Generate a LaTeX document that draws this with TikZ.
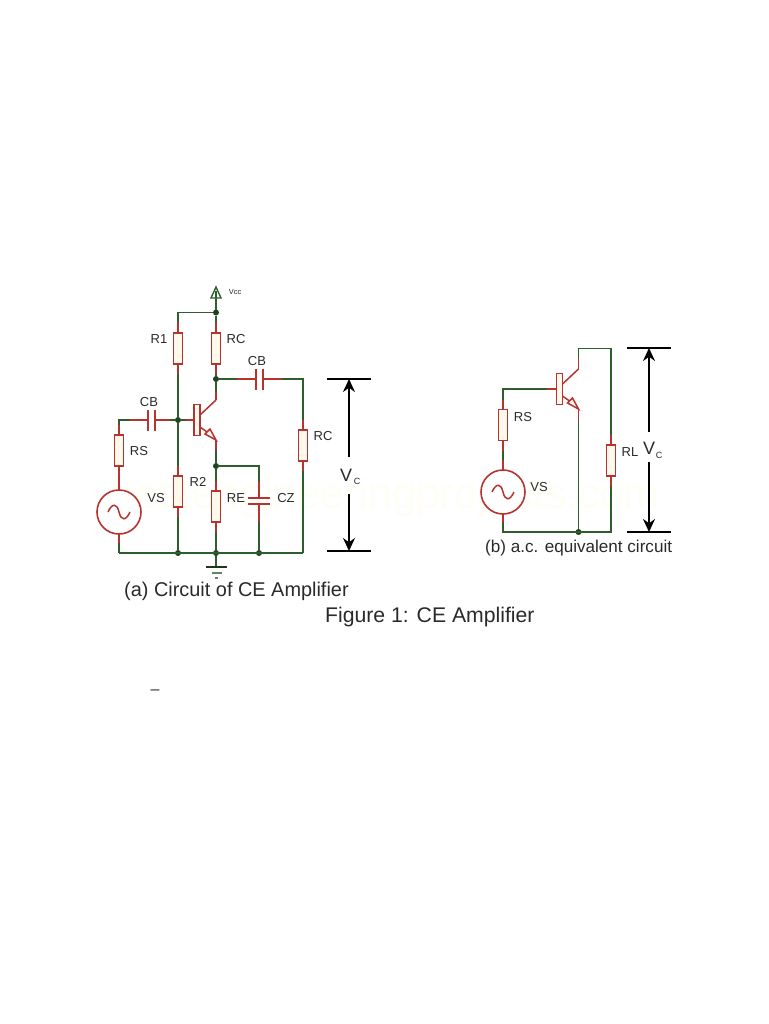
\documentclass[tikz,border=0pt]{standalone}
\usepackage{fontspec}
\setmainfont{Liberation Sans}
\usetikzlibrary{arrows.meta}
\definecolor{wg}{HTML}{2E5E2E}
\definecolor{wr}{HTML}{B5342F}
\definecolor{rfill}{HTML}{FFF9EC}
\definecolor{txt}{HTML}{2A2A2A}
\definecolor{wm}{HTML}{FEFEF4}
\tikzset{
 wire/.style={draw=wg,line width=1.5pt},
 lead/.style={draw=wr,line width=1.5pt},
 res/.style={draw=wr,fill=rfill,line width=1.5pt,minimum width=9pt,minimum height=31pt,inner sep=0pt,outer sep=0pt},
 bbar/.style={draw=wr,fill=rfill,line width=1.5pt,minimum width=6pt,minimum height=31pt,inner sep=0pt,outer sep=0pt},
 src/.style={circle,draw=wr,fill=white,line width=1.6pt,minimum size=44pt,inner sep=0pt,outer sep=0pt},
 dot/.style={circle,fill=wg!70!black,minimum size=6pt,inner sep=0pt,outer sep=0pt},
 lab/.style={font=\fontsize{13}{14}\selectfont,text=txt,inner sep=0pt},
 dimline/.style={draw=black,line width=1.6pt},
 dimarrow/.style={draw=black,line width=1.6pt,-{Stealth[length=13pt,width=12pt]}},
}
\newcommand{\mysine}[1]{\draw[wr,line width=1.5pt] ([xshift=-11pt]#1.center) .. controls +(4,-9) and +(-2,-9) .. (#1.center) .. controls +(2,9) and +(-4,9) .. ([xshift=11pt]#1.center);}
\newcommand{\mytrans}[3]{% name, base-bar x, y
 \node[bbar] (#1) at (#2,#3) {};
 \begin{scope}[shift={(#2,#3)}]
  \coordinate (#1c) at (19,-20);
  \coordinate (#1e) at (19,20);
  \draw[lead] (3,-5) -- (#1c);
  \draw[lead] (3,7) -- (10,12);
  \draw[lead,fill=rfill,line join=miter] (#1e) -- (8,14) -- (13,9) -- cycle;
 \end{scope}}
\begin{document}
\begin{tikzpicture}[x=1pt,y=-1pt]
\useasboundingbox (0,0) rectangle (768,1024);
\fill[white] (0,0) rectangle (768,1024);
\node[font=\fontsize{43}{44}\selectfont,text=wm,inner sep=0pt] (wmark) at (385,497) {bestengineeringprojects.com};

% ---------- circuit (a)
\coordinate (vtop) at (216,298);
\node[dot] (jv) at (216,312.5) {};
\coordinate (c1) at (178,312.5);
\node[res] (r1) at (178,348.5) {};
\node[res] (rc) at (216,348.5) {};
\node[dot] (jc) at (216,379) {};
\node[dot] (jb) at (178,420) {};
\node[res] (r2) at (178,491.5) {};
\node[res] (re) at (216,506.5) {};
\node[res] (rl) at (303,445.5) {};
\node[res] (rs) at (119,450.5) {};
\node[src] (vs) at (119,512) {};
\node[dot] (je) at (216,466) {};
\node[dot] (g1) at (178,553) {};
\node[dot] (g2) at (216,553) {};
\node[dot] (g3) at (259,553) {};
\coordinate (c2) at (119,553);
\coordinate (c3) at (303,553);
\coordinate (c4) at (303,379);
\coordinate (c5) at (119,420);
\coordinate (c6) at (259,466);
\coordinate (cz1) at (259,498);
\coordinate (cz2) at (259,504);
\coordinate (cb1a) at (256,379);
\coordinate (cb1b) at (263,379);
\coordinate (cb2a) at (148,420);
\coordinate (cb2b) at (155,420);
\coordinate (gnd) at (216,567);
\mytrans{q}{197}{420}

% wires
\draw[wire] (vtop) -- (jv);
\draw[wire] (jv) -- (c1) -- (r1.north);
\draw[wire] (jv) -- (rc.north);
\draw[wire] (rc.south) -- (jc);
\draw[wire] (r1.south) -- (jb);
\draw[wire] (jb) -- (r2.north);
\draw[wire] (r2.south) -- (g1);
\draw[wire] (jc) -- (qc);
\draw[wire] (qe) -- (je);
\draw[wire] (je) -- (re.north);
\draw[wire] (re.south) -- (g2);
\draw[wire] (je) -- (c6) -- (cz1);
\draw[wire] (cz2) -- (g3);
\draw[wire] (jc) -- (cb1a);
\draw[wire] (cb1b) -- (c4) -- (rl.north);
\draw[wire] (rl.south) -- (c3);
\draw[wire] (c2) -- (c3);
\draw[wire] (g2) -- (gnd);
\draw[wire] (jb) -- (cb2b);
\draw[wire] (jb) -- (q.west);
\draw[wire] (cb2a) -- (c5) -- (rs.north);
\draw[wire] (rs.south) -- (vs.north);
\draw[wire] (vs.south) -- (c2);
% red leads
\draw[lead] (r1.north) -- ++(0,-11);
\draw[lead] (r1.south) -- ++(0,10);
\draw[lead] (rc.north) -- ++(0,-11);
\draw[lead] (rc.south) -- ++(0,10);
\draw[lead] (r2.north) -- ++(0,-10);
\draw[lead] (r2.south) -- ++(0,10);
\draw[lead] (re.north) -- ++(0,-10);
\draw[lead] (re.south) -- ++(0,10);
\draw[lead] (rl.north) -- ++(0,-10);
\draw[lead] (rl.south) -- ++(0,10);
\draw[lead] (rs.north) -- ++(0,-10);
\draw[lead] (rs.south) -- (vs.north);
\draw[lead] (vs.south) -- ++(0,9);
\draw[lead] (cz1) -- ++(0,-16);
\draw[lead] (cz2) -- ++(0,18);
\draw[lead] (cb1a) -- ++(-19,0);
\draw[lead] (cb1b) -- ++(19,0);
\draw[lead] (cb2a) -- ++(-18,0);
\draw[lead] (cb2b) -- ++(15,0);
\draw[lead] (jb) ++(8,0) -- (q.west);
\draw[lead] (jc) ++(0,13) -- ++(0,8);
\draw[lead] (qe) -- ++(0,10);
% capacitor plates
\draw[wr,line width=2pt] (cb1a) ++(0,-10.5) -- ++(0,21);
\draw[wr,line width=2pt] (cb1b) ++(0,-10.5) -- ++(0,21);
\draw[wr,line width=2pt] (cb2a) ++(0,-10.5) -- ++(0,21);
\draw[wr,line width=2pt] (cb2b) ++(0,-10.5) -- ++(0,21);
\draw[wr,line width=1.8pt] (cz1) ++(-11,0) -- ++(22,0);
\draw[wr,line width=1.8pt] (cz2) ++(-11,0) -- ++(22,0);
% supply symbol
\draw[wg,fill=white,line width=1.4pt,line join=miter] (vtop) ++(-5,0) -- (216,287) -- (221,298) -- cycle;
\draw[wire] (vtop) -- (216,291);
% ground
\draw[wg!60!black,line width=1.4pt] (206,567) -- (227,567);
\draw[wg!75!white,line width=1.4pt] (212,573) -- (222,573);
\draw[wg!75!white,line width=1.4pt] (215,578) -- (218,578);
\mysine{vs}

% V markers (a)
\coordinate (va1) at (327,379); \coordinate (va2) at (371,379);
\coordinate (vb1) at (327,551); \coordinate (vb2) at (371,551);
\coordinate (vat) at (349,379); \coordinate (vab) at (349,551);
\coordinate (vam1) at (349,457); \coordinate (vam2) at (349,494);
\draw[dimline] (va1) -- (va2);
\draw[dimline] (vb1) -- (vb2);
\draw[dimarrow] (vam1) -- (vat);
\draw[dimarrow] (vam2) -- (vab);

% ---------- circuit (b)
\mytrans{t}{559.5}{389}
\node[res] (brs) at (503,425) {};
\node[res] (brl) at (611,460.5) {};
\node[src] (bvs) at (503,492) {};
\node[dot] (bj) at (578.5,532) {};
\coordinate (b1) at (503,389);
\coordinate (b2) at (503,532);
\coordinate (b3) at (611,532);
\coordinate (b4) at (611,348.5);
\coordinate (b5) at (578.5,348.5);
\draw[wire] (t.west) -- (b1) -- (brs.north);
\draw[wire] (brs.south) -- (bvs.north);
\draw[wire] (bvs.south) -- (b2) -- (b3) -- (brl.south);
\draw[wire] (brl.north) -- (b4) -- (b5) -- (tc);
\draw[wire] (te) -- (bj);
\draw[lead] (t.west) -- ++(-10,0);
\draw[lead] (brs.north) -- ++(0,-10);
\draw[lead] (brs.south) -- ++(0,10);
\draw[lead] (bvs.north) -- ++(0,-10);
\draw[lead] (bvs.south) -- ++(0,8);
\draw[lead] (brl.north) -- ++(0,-10);
\draw[lead] (brl.south) -- ++(0,10);
\draw[lead] (tc) -- ++(0,-11);
\draw[lead] (te) -- ++(0,11);
\mysine{bvs}

\coordinate (wa1) at (627,348); \coordinate (wa2) at (671,348);
\coordinate (wb1) at (627,532); \coordinate (wb2) at (671,532);
\coordinate (wat) at (649,348); \coordinate (wab) at (649,532);
\coordinate (wam1) at (649,432); \coordinate (wam2) at (649,462);
\draw[dimline] (wa1) -- (wa2);
\draw[dimline] (wb1) -- (wb2);
\draw[dimarrow] (wam1) -- (wat);
\draw[dimarrow] (wam2) -- (wab);

% ---------- labels
\node[font=\fontsize{7.5}{8}\selectfont,text=txt,inner sep=0pt] (lvcc) at (235,292) {Vcc};
\node[lab] (l1) at (159,339.5) {R1};
\node[lab] (l2) at (236,339.5) {RC};
\node[lab] (l3) at (257,361) {CB};
\node[lab] (l4) at (149,402) {CB};
\node[lab] (l5) at (139,451) {RS};
\node[lab] (l6) at (198,482) {R2};
\node[lab] (l7) at (156,498) {VS};
\node[lab] (l8) at (236,498) {RE};
\node[lab] (l9) at (286,498) {CZ};
\node[lab] (l10) at (323,436) {RC};
\node[lab] (l11) at (523,417) {RS};
\node[lab] (l12) at (630,452) {RL};
\node[lab] (l13) at (539,487) {VS};
\node[font=\fontsize{18}{20}\selectfont,text=txt,inner sep=0pt] (vv1) at (346,475) {V};
\node[font=\fontsize{9}{10}\selectfont,text=txt,inner sep=0pt] (vc1) at (357,481) {C};
\node[font=\fontsize{18}{20}\selectfont,text=txt,inner sep=0pt] (vv2) at (649,448) {V};
\node[font=\fontsize{9}{10}\selectfont,text=txt,inner sep=0pt] (vc2) at (659,455) {C};
\node[font=\fontsize{19.9}{22}\selectfont,text=txt,inner sep=0pt,anchor=west] (ca) at (124,591) {(a) Circuit of CE Amplifier};
\node[font=\fontsize{21.2}{24}\selectfont,text=txt,inner sep=0pt,anchor=west] (cb) at (325,617) {Figure 1: CE Amplifier};
\node[font=\fontsize{17.1}{20}\selectfont,text=txt,inner sep=0pt,anchor=west] (cc) at (485,548) {(b) a.c. equivalent circuit};
\node[font=\fontsize{16}{18}\selectfont,text=txt,inner sep=0pt] (dash) at (155,692) {–};
\end{tikzpicture}
\end{document}
